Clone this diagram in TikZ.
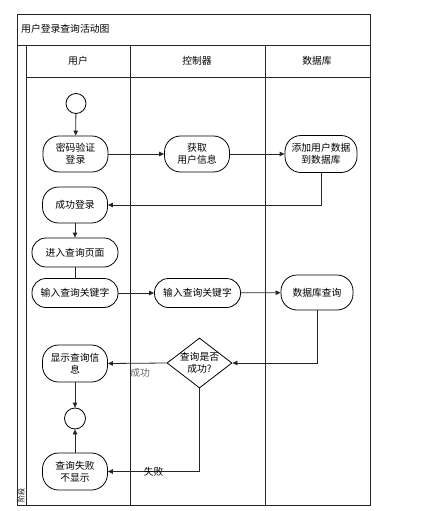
\documentclass[tikz,border=0pt]{standalone}
\usepackage{fontspec}
\setmainfont{Noto Sans CJK SC}
\usetikzlibrary{arrows.meta,shapes.geometric}
\begin{document}
\begin{tikzpicture}[x=1pt,y=-1pt,
  font=\fontsize{9.8}{12}\selectfont,
  frame/.style={draw=black!85, line width=0.8pt},
  act/.style={draw, rounded corners=16pt, minimum width=65pt, minimum height=36pt, align=center, inner sep=2pt, line width=0.8pt},
  wideact/.style={act, rounded corners=14pt, minimum width=86pt, minimum height=29pt},
  dbact/.style={act, minimum width=72pt, minimum height=37pt},
  dot/.style={draw, circle, minimum size=20pt, inner sep=0pt, line width=0.8pt},
  dia/.style={draw, diamond, minimum width=65pt, minimum height=50pt, inner sep=0pt, line width=0.8pt},
  arr/.style={draw=black!85, line width=0.8pt, -{Triangle[length=5pt,width=4.5pt]}},
  conn/.style={draw=black!85, line width=0.8pt},
  lbl/.style={inner sep=1pt}
]
\useasboundingbox (0,0) rectangle (434,511);
% frame
\draw[frame] (17,14) rectangle (370,505);
\draw[frame] (17,45) -- (370,45);
\draw[frame] (26,77) -- (370,77);
\draw[frame] (26,45) -- (26,505);
\draw[frame] (130,45) -- (130,505);
\draw[frame] (265,45) -- (265,505);
\node[anchor=west, lbl] (title) at (20,29) {用户登录查询活动图};
\node[lbl] (h1) at (78,61) {用户};
\node[lbl] (h2) at (197,61) {控制器};
\node[lbl] (h3) at (317,61) {数据库};
\node[rotate=90, anchor=west, inner sep=0.5pt, font=\fontsize{7}{8}\selectfont] (phase) at (21.5,503) {阶段};
% nodes
\node[dot] (start) at (76,103.5) {};
\node[act] (login) at (75.5,154) {密码验证\\登录};
\node[act] (fetch) at (197,154) {获取\\用户信息};
\node[dbact] (adddb) at (321,154) {添加用户数据\\到数据库};
\node[act] (succ) at (75,205) {成功登录};
\node[wideact] (enter) at (75,252.5) {进入查询页面};
\node[wideact] (input1) at (75,293) {输入查询关键字};
\node[wideact] (input2) at (197.5,293) {输入查询关键字};
\node[dbact, minimum height=35pt] (dbq) at (317,292.5) {数据库查询};
\node[dia] (dec) at (199.5,363) {};
\node[align=center, inner sep=0pt] (dectext) at (dec) {查询是否\\成功?};
\node[act, minimum height=37pt] (show) at (75,363.5) {显示查询信\\息};
\node[dot, minimum size=21pt] (end) at (75,418.5) {};
\node[act, minimum height=37pt] (fail) at (75,471.5) {查询失败\\不显示};
% connectors
\draw[arr] (start) -- (login);
\draw[arr] (login) -- (fetch);
\draw[arr] (fetch) -- (adddb);
\draw[arr] (adddb.south) |- (succ.east);
\draw[arr] (succ) -- (enter);
\draw[conn] (enter) -- (input1);
\draw[arr] (input1) -- (input2);
\draw[arr] (input2) -- (dbq);
\draw[arr] (dbq.south) |- (dec.east);
\draw[arr] (dec.west) -- node[pos=0.45, below=4pt, text=black!60, lbl] (ok) {成功} (show.east);
\draw[arr] (dec.south) |- node[pos=0.75, lbl] (ng) {失败} (fail.east);
\draw[arr] (show) -- (end);
\draw[arr] (fail) -- (end);
\end{tikzpicture}
\end{document}
